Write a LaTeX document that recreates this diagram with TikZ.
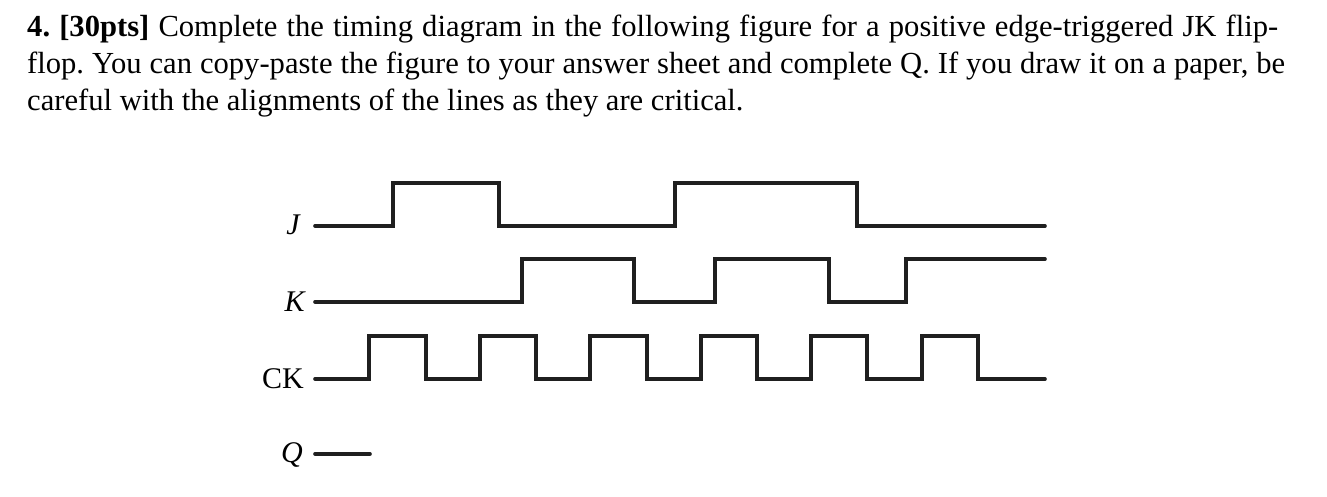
\documentclass[tikz,border=0pt]{standalone}
\usepackage{fontspec}
\setmainfont{Liberation Serif}
\frenchspacing
\begin{document}
\begin{tikzpicture}[x=1pt,y=-1pt,
  wave/.style={line width=3.6pt,line cap=round,line join=miter,black!88},
  para/.style={anchor=base west,inner sep=0pt,font=\fontsize{30.6}{37}\selectfont},
  sig/.style={anchor=base east,inner sep=0pt,font=\fontsize{30}{32}\selectfont}]
\useasboundingbox (0,0) rectangle (1327,497);
% question text
\node[para] (t1) at (27,37) {\hbox to 1251pt{\textbf{4. [30pts]} Complete the timing diagram in the following figure for a positive edge-triggered JK flip-}};
\node[para] (t2) at (27,74) {\hbox to 1258pt{flop. You can copy-paste the figure to your answer sheet and complete Q. If you draw it on a paper, be}};
\node[para] (t3) at (27,111) {careful with the alignments of the lines as they are critical.};
% labels
\node[sig] (lJ) at (301,234) {\textit{J}};
\node[sig] (lK) at (306,311) {\textit{K}};
\node[sig] (lCK) at (304,388) {CK};
\node[sig] (lQ) at (303,462) {\textit{Q}};
% J
\draw[wave] (315,226) -- (393,226) -- (393,183) -- (499,183) -- (499,226) -- (675,226)
  -- (675,183) -- (857,183) -- (857,226) -- (1045,226);
% K
\draw[wave] (315,302) -- (522,302) -- (522,259) -- (634,259) -- (634,302) -- (715,302)
  -- (715,259) -- (829,259) -- (829,302) -- (906,302) -- (906,259) -- (1045,259);
% CK
\draw[wave] (315,379) -- (369,379) -- (369,336) -- (426,336) -- (426,379)
  -- (480,379) -- (480,336) -- (536,336) -- (536,379)
  -- (590,379) -- (590,336) -- (647,336) -- (647,379)
  -- (701,379) -- (701,336) -- (757,336) -- (757,379)
  -- (811,379) -- (811,336) -- (867,336) -- (867,379)
  -- (922,379) -- (922,336) -- (978,336) -- (978,379) -- (1045,379);
% Q
\draw[wave] (315,454) -- (370,454);
\end{tikzpicture}
\end{document}
